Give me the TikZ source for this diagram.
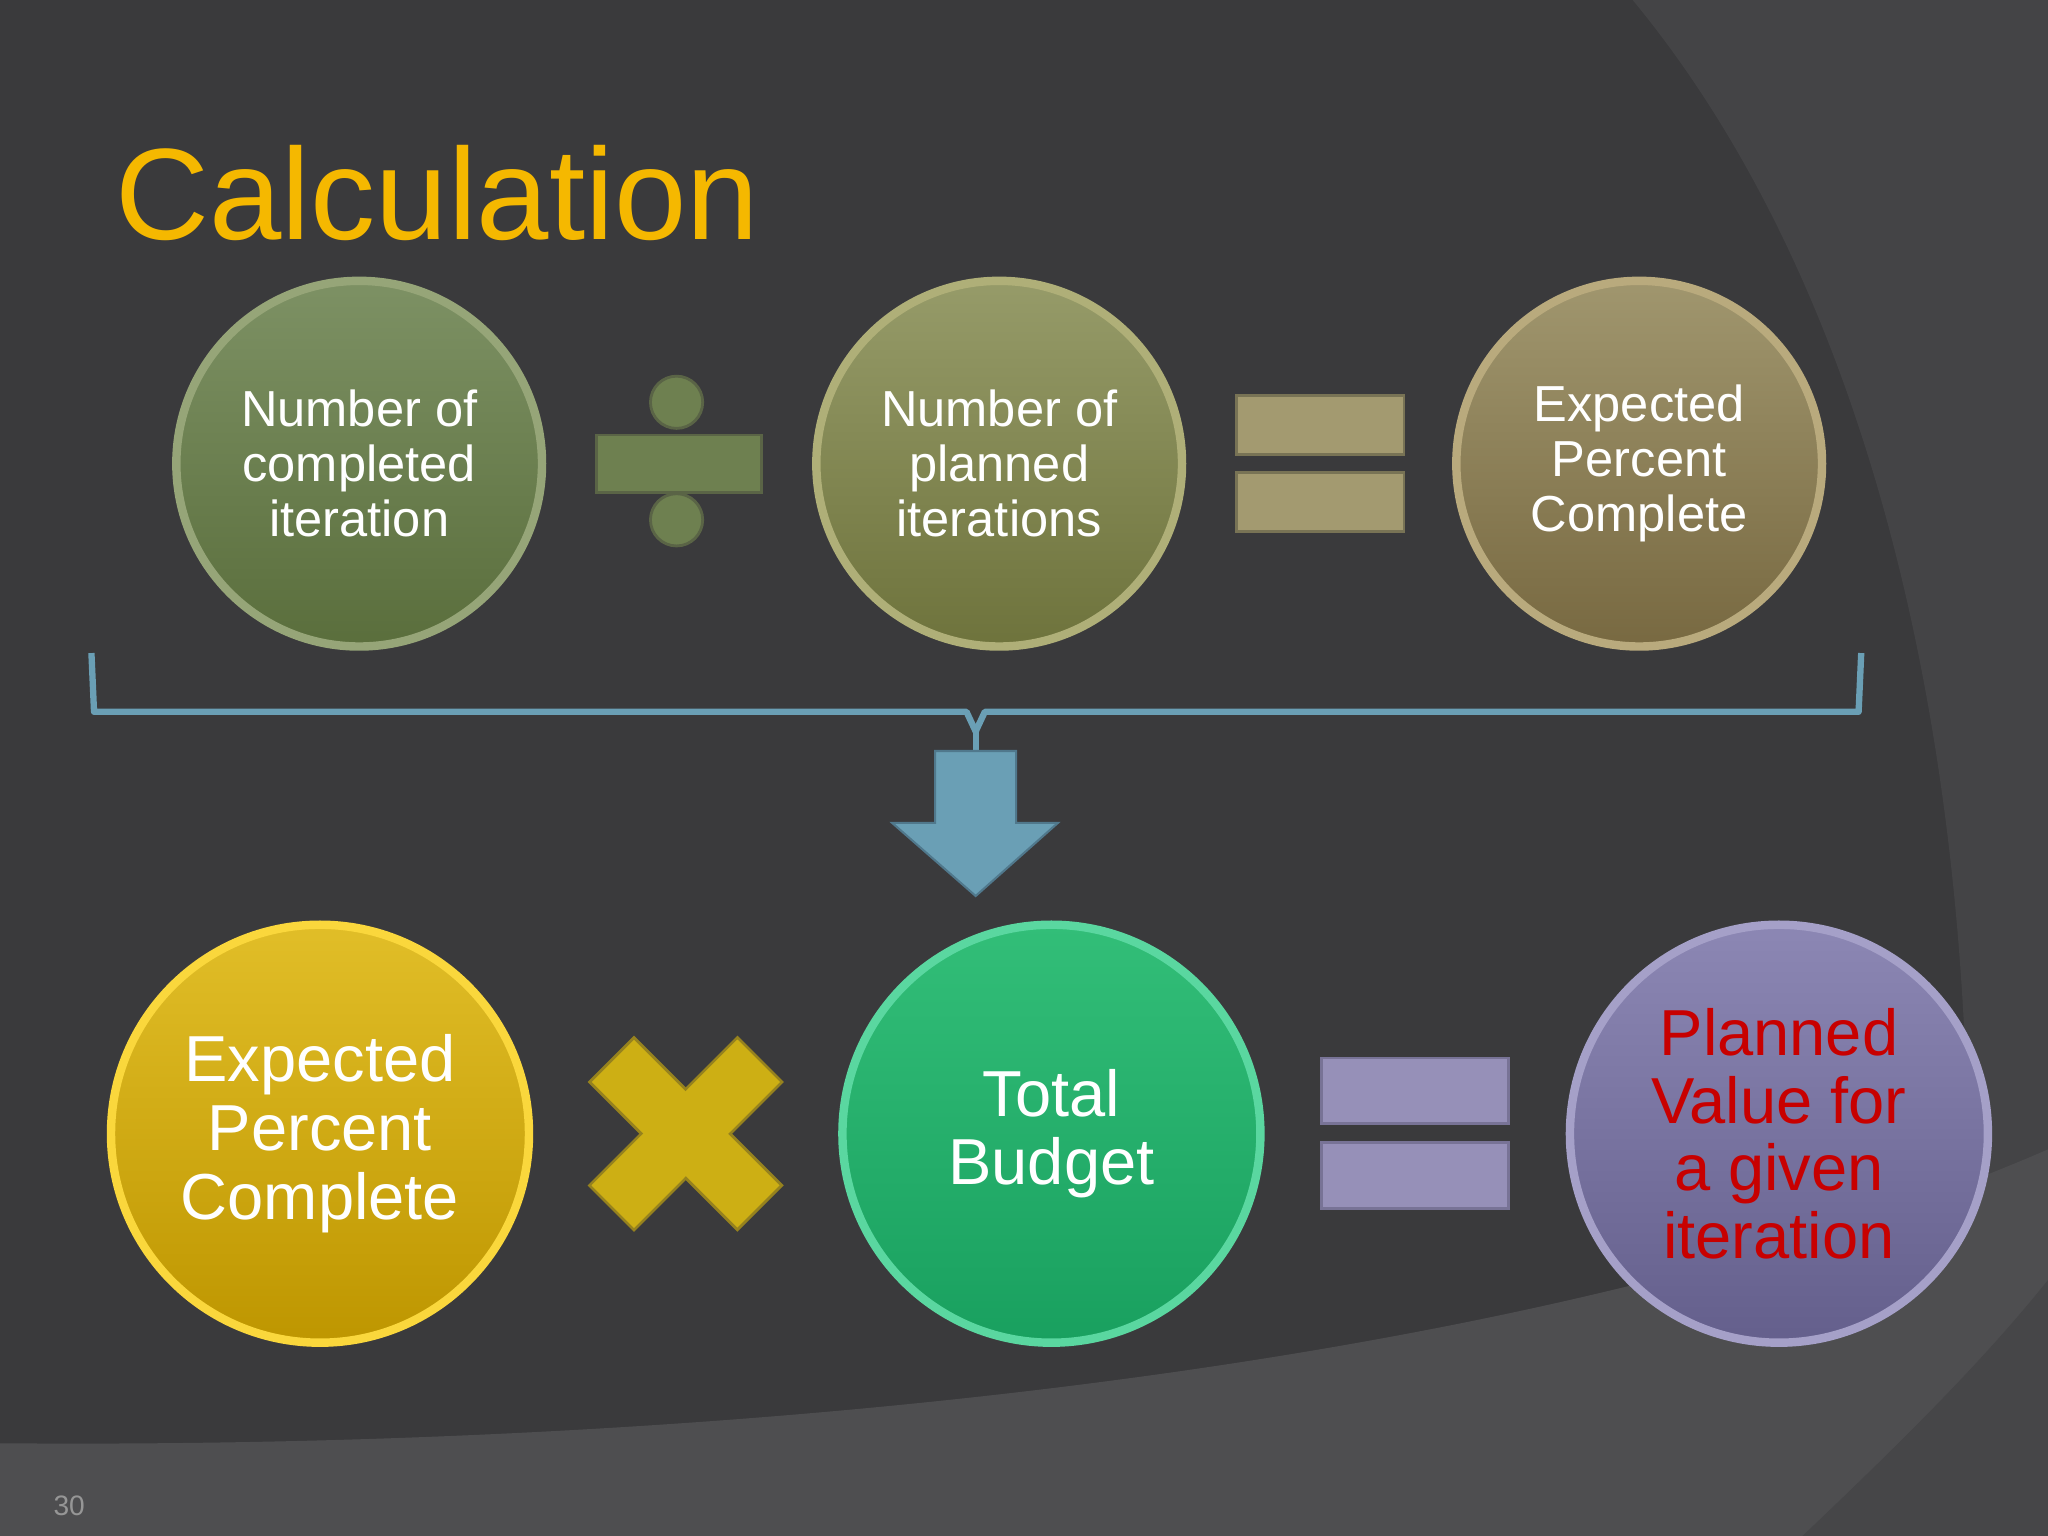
\documentclass[tikz,border=0pt]{standalone}
\usepackage{fontspec}
\setmainfont{Liberation Sans}
\begin{document}
\begin{tikzpicture}[x=0.013061cm,y=-0.013061cm,
  ring/.style={circle,minimum size=3.657cm,inner sep=0,line width=2.4pt,align=center,text=white,font=\fontsize{14.4}{15.6}\selectfont},
  bigring/.style={circle,minimum size=4.18cm,inner sep=0,line width=2.4pt,align=center,text=white,font=\fontsize{18.5}{19.5}\selectfont},
  bracketline/.style={draw=bluec,line width=1.8pt,line join=round}]
\definecolor{bg}{HTML}{3A3A3C}
\definecolor{bg2}{HTML}{444446}
\definecolor{bg3}{HTML}{4E4E50}
\definecolor{bluec}{HTML}{6A9FB5}
\useasboundingbox (0,0) rectangle (1568,1176);
\fill[bg] (0,0) rectangle (1568,1176);
\fill[bg2] (1250,0) .. controls (1440,230) and (1520,600) .. (1505,1000) -- (1568,1000) -- (1568,0) -- cycle;
\fill[bg3] (0,1105) .. controls (600,1110) and (1200,1040) .. (1568,880) -- (1568,1176) -- (0,1176) -- cycle;
\fill[bg2!80!bg3] (1380,1176) .. controls (1460,1100) and (1520,1040) .. (1568,980) -- (1568,1176) -- cycle;
\node[anchor=base west,text={rgb,255:red,245;green,184;blue,0},font=\fontsize{37}{40}\selectfont,inner sep=0] (title) at (88,183) {Calculation};
% top circles
\node[ring,draw={rgb,255:red,150;green,165;blue,120},top color={rgb,255:red,125;green,145;blue,100},bottom color={rgb,255:red,90;green,110;blue,60}] (c1) at (275,355) {Number of\\completed\\iteration};
\node[ring,draw={rgb,255:red,175;green,175;blue,120},top color={rgb,255:red,150;green,155;blue,105},bottom color={rgb,255:red,110;green,115;blue,60}] (c2) at (765,355) {Number of\\planned\\iterations};
\node[ring,draw={rgb,255:red,185;green,170;blue,125},top color={rgb,255:red,160;green,150;blue,110},bottom color={rgb,255:red,120;green,105;blue,65}] (c3) at (1255,355) {Expected\\Percent\\Complete};
% divide
\filldraw[draw={rgb,255:red,90;green,100;blue,70},line width=0.8pt,fill={rgb,255:red,110;green,128;blue,80}] (457,333) rectangle (583,377);
\filldraw[draw={rgb,255:red,90;green,100;blue,70},line width=0.8pt,fill={rgb,255:red,110;green,128;blue,80}] (518,308) circle (20) (518,398) circle (20);
% equals top
\filldraw[draw={rgb,255:red,120;green,115;blue,85},line width=0.8pt,fill={rgb,255:red,163;green,154;blue,112}] (947,303) rectangle (1075,348) (947,362) rectangle (1075,407);
% bracket
\coordinate (bl) at (70,500); \coordinate (br) at (1425,500);
\draw[bracketline] (bl) -- (72,545) -- (740,545) -- (747,560) -- (754,545) -- (1423,545) -- (br);
\draw[bracketline] (747,560) -- (747,585);
% arrow
\filldraw[fill=bluec,draw={rgb,255:red,80;green,120;blue,140},line width=0.6pt] (716,575) -- (778,575) -- (778,630) -- (810,630) -- (747,686) -- (683,630) -- (716,630) -- cycle;
% bottom circles
\node[bigring,draw={rgb,255:red,250;green,215;blue,60},top color={rgb,255:red,225;green,190;blue,40},bottom color={rgb,255:red,190;green,150;blue,0}] (d1) at (245,868) {Expected\\Percent\\Complete};
\node[bigring,draw={rgb,255:red,90;green,215;blue,160},top color={rgb,255:red,50;green,190;blue,120},bottom color={rgb,255:red,25;green,160;blue,95}] (d2) at (805,868) {Total\\Budget};
\node[bigring,draw={rgb,255:red,165;green,160;blue,200},top color={rgb,255:red,140;green,135;blue,180},bottom color={rgb,255:red,100;green,95;blue,140},text={rgb,255:red,200;green,0;blue,0},font=\fontsize{18.5}{19.3}\selectfont] (d3) at (1362,868) {Planned\\Value for\\a given\\iteration};
% times
\begin{scope}[shift={(525,868)}]
\foreach \a in {45,-45}
  \filldraw[rotate=\a,fill={rgb,255:red,205;green,175;blue,20},draw={rgb,255:red,150;green,130;blue,30},line width=0.8pt] (-80,-24) rectangle (80,24);
\fill[rotate=45,fill={rgb,255:red,205;green,175;blue,20}] (-79,-23) rectangle (79,23);
\end{scope}
% equals bottom
\filldraw[draw={rgb,255:red,120;green,115;blue,150},line width=0.8pt,fill={rgb,255:red,150;green,144;blue,184}] (1012,810) rectangle (1155,860) (1012,875) rectangle (1155,925);
\node[text={rgb,255:red,150;green,150;blue,150},font=\fontsize{8}{9}\selectfont] (pg) at (53,1153) {30};
\end{tikzpicture}
\end{document}
